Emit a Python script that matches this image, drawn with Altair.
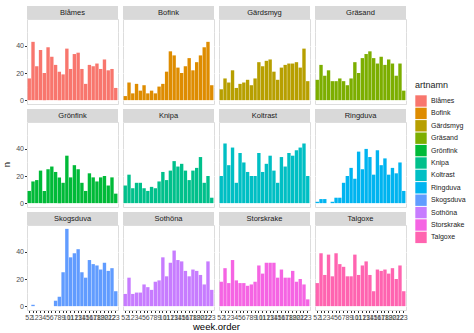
import altair as alt
import pandas as pd

weeks = ["52"] + [str(i) for i in range(1, 24)]
species = ["Blåmes", "Bofink", "Gärdsmyg", "Gräsand", "Grönfink", "Knipa",
           "Koltrast", "Ringduva", "Skogsduva", "Sothöna", "Storskrake", "Talgoxe"]
colors = ["#F8766D", "#DE8C00", "#B79F00", "#7CAE00", "#00BA38", "#00C08B",
          "#00BFC4", "#00B4F0", "#619CFF", "#C77CFF", "#F564E3", "#FF64B0"]

blames = [16, 43, 25, 37, 20, 39, 32, 26, 21, 19, 38, 23, 34, 35, 23, 12, 26, 25, 27, 23, 30, 22, 23, 9]
bofink = [3, 13, 5, 12, 7, 11, 5, 7, 5, 10, 12, 21, 36, 33, 24, 20, 25, 31, 22, 28, 33, 39, 43, 11]
gardsmyg = [8, 16, 13, 22, 9, 12, 13, 15, 11, 16, 28, 25, 29, 30, 21, 15, 24, 26, 27, 27, 28, 24, 38, 14]
grasand = [15, 26, 18, 22, 14, 14, 16, 14, 11, 16, 28, 20, 31, 34, 36, 31, 27, 32, 26, 30, 27, 18, 27, 7]
gronfink = [9, 16, 17, 24, 9, 25, 27, 23, 19, 15, 35, 19, 28, 25, 15, 9, 22, 19, 16, 19, 20, 13, 19, 7]
knipa = [13, 21, 11, 15, 15, 11, 9, 12, 11, 16, 23, 17, 24, 31, 27, 29, 24, 17, 24, 26, 34, 15, 20, 4]
koltrast = [20, 44, 28, 41, 15, 37, 30, 23, 20, 20, 37, 23, 29, 35, 24, 15, 34, 27, 37, 35, 39, 41, 44, 20]
ringduva = [1, 3, 3, 0, 1, 4, 4, 15, 20, 26, 18, 38, 25, 40, 34, 21, 39, 28, 33, 21, 26, 22, 30, 9]
skogsduva = [0, 1, 0, 0, 0, 0, 0, 4, 7, 25, 57, 36, 39, 42, 25, 21, 34, 31, 30, 27, 32, 26, 28, 11]
sothona = [9, 21, 9, 10, 10, 16, 14, 12, 18, 19, 36, 22, 32, 41, 34, 33, 26, 22, 27, 26, 23, 16, 33, 12]
storskrake = [18, 28, 17, 34, 19, 17, 17, 15, 16, 18, 30, 24, 32, 32, 32, 21, 27, 21, 21, 26, 18, 20, 16, 5]
talgoxe = [17, 39, 23, 38, 22, 39, 31, 29, 22, 22, 38, 23, 30, 33, 23, 11, 27, 26, 27, 24, 28, 20, 30, 11]

counts = [blames, bofink, gardsmyg, grasand, gronfink, knipa,
          koltrast, ringduva, skogsduva, sothona, storskrake, talgoxe]

rows = []
for sp, vals in zip(species, counts):
    for w, v in zip(weeks, vals):
        rows.append({"artnamn": sp, "week": w, "n": v})
df = pd.DataFrame(rows)

W, H = 91, 85
FONT = "Liberation Sans"
major = "datum.value % 20 === 0"

base = alt.Chart(df)

bars = base.mark_bar().encode(
    x=alt.X("week:N", sort=weeks, title=None,
            scale=alt.Scale(paddingInner=0.1, paddingOuter=0.15),
            axis=alt.Axis(labelAngle=0, labelOverlap=False, labelFontSize=7,
                          labelColor="#4D4D4D", tickColor="#333333", tickSize=2.5,
                          labelPadding=1, gridColor="white", gridWidth=1,
                          domain=False, bandPosition=0.5)),
    y=alt.Y("n:Q", title=None,
            scale=alt.Scale(domain=[-2.85, 59.85], nice=False, zero=False),
            axis=alt.Axis(values=[0, 10, 20, 30, 40, 50],
                          labelExpr="datum.value % 20 === 0 ? datum.label : ''",
                          labelFontSize=7, labelColor="#4D4D4D", tickColor="#333333",
                          tickSize=2.5, labelPadding=1, domain=False,
                          gridColor="white",
                          gridWidth={"condition": {"test": major, "value": 1}, "value": 0.5},
                          tickOpacity={"condition": {"test": major, "value": 1}, "value": 0})),
    y2=alt.datum(0),
    color=alt.Color("artnamn:N", scale=alt.Scale(domain=species, range=colors),
                    legend=alt.Legend(title="artnamn", orient="none", legendX=388, legendY=62,
                                      symbolType="square", symbolSize=130,
                                      symbolStrokeWidth=0, rowPadding=0.4,
                                      labelFontSize=7, titleFontSize=9,
                                      titleFontWeight="normal", labelOffset=4,
                                      titlePadding=5, labelColor="#1A1A1A",
                                      titleColor="#1A1A1A")),
)

one = base.transform_aggregate(c="count()", groupby=["artnamn"])

strip = one.mark_rect(color="#D9D9D9").encode(
    x=alt.value(0), x2=alt.value(W), y=alt.value(-13), y2=alt.value(0))
striptext = one.mark_text(fontSize=7.5, color="#1A1A1A", font=FONT).encode(
    text="artnamn:N", x=alt.value(W / 2), y=alt.value(-6.5))

xtitle = base.transform_filter(alt.datum.artnamn == "Sothöna").transform_aggregate(
    c="count()", groupby=["artnamn"]).mark_text(
    text="week.order", fontSize=9.5, color="black", font=FONT).encode(
    x=alt.value(W + 2.5), y=alt.value(H + 17))
ytitle = base.transform_filter(alt.datum.artnamn == "Grönfink").transform_aggregate(
    c="count()", groupby=["artnamn"]).mark_text(
    text="n", fontSize=9.5, color="black", font=FONT, angle=270).encode(
    x=alt.value(-20), y=alt.value(H / 2))

layered = alt.layer(bars, strip, striptext, xtitle, ytitle).properties(width=W, height=H)

chart = layered.facet(
    facet=alt.Facet("artnamn:N", sort=species, title=None,
                    header=alt.Header(labels=False, labelExpr="''", labelFontSize=1,
                                      labelPadding=0)),
    columns=4,
    spacing={"row": 18, "column": 5},
    bounds="flush",
).properties(
    padding={"left": 1, "top": 4, "right": 5, "bottom": 2},
).configure_view(
    fill="#EBEBEB", stroke=None
).configure_header(
    labels=False
).configure(font=FONT, background="white")

chart.save("out.html", embed_options={"renderer": "svg", "actions": False})
